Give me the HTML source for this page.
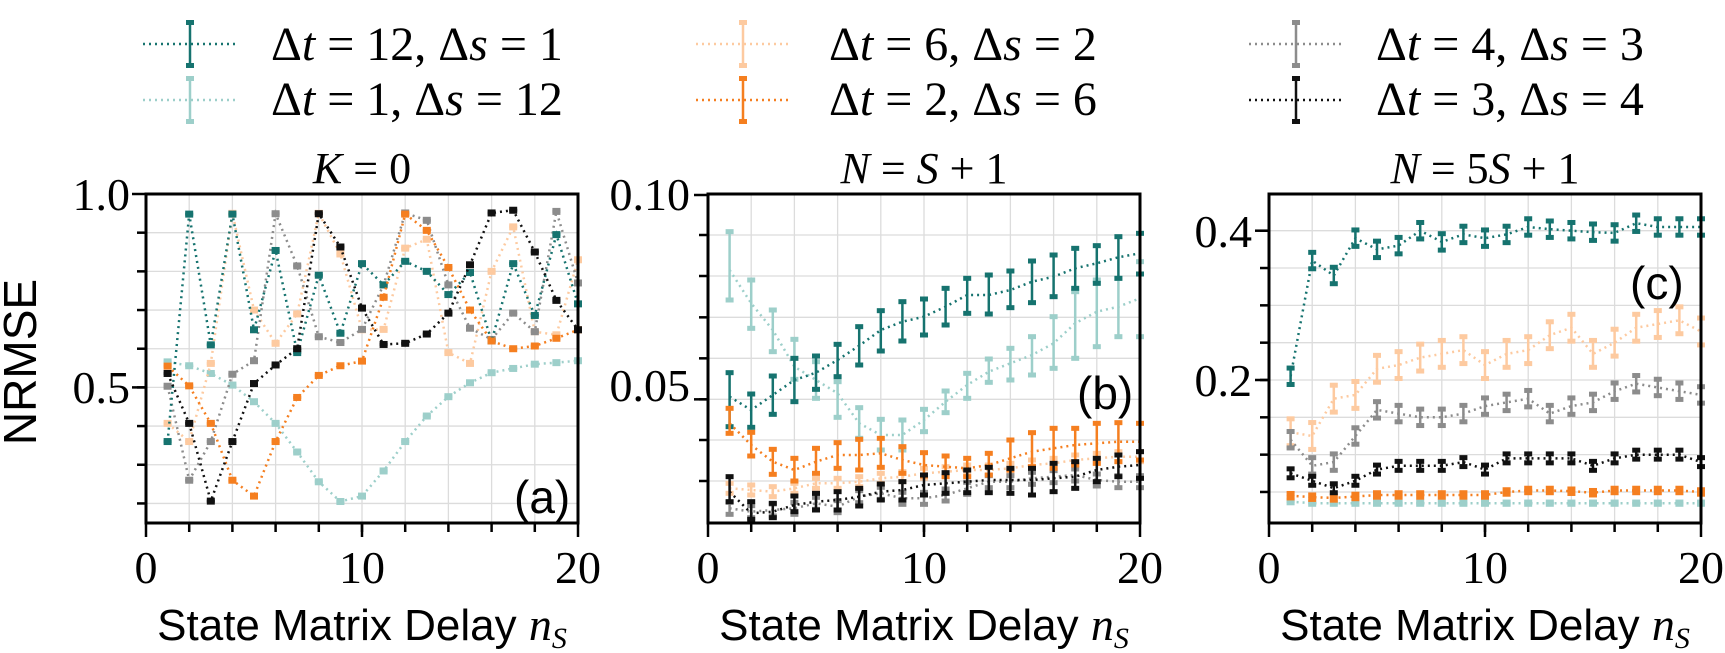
<!DOCTYPE html>
<html><head><meta charset="utf-8">
<style>
html,body{margin:0;padding:0;background:#fff;}
svg{display:block;}
.ser{font-family:"Liberation Serif","DejaVu Serif",serif;}
.san{font-family:"Liberation Sans","DejaVu Sans",sans-serif;}
</style></head>
<body>
<svg id="s" width="1725" height="653" viewBox="0 0 1725 653" xmlns="http://www.w3.org/2000/svg">
<g id="leg"></g>
<g class="ser" font-size="48" fill="#000">
<text x="271" y="60">Δ<tspan font-style="italic">t</tspan> = 12, Δ<tspan font-style="italic">s</tspan> = 1</text>
<text x="271" y="115">Δ<tspan font-style="italic">t</tspan> = 1, Δ<tspan font-style="italic">s</tspan> = 12</text>
<text x="829" y="60">Δ<tspan font-style="italic">t</tspan> = 6, Δ<tspan font-style="italic">s</tspan> = 2</text>
<text x="829" y="115">Δ<tspan font-style="italic">t</tspan> = 2, Δ<tspan font-style="italic">s</tspan> = 6</text>
<text x="1376" y="60">Δ<tspan font-style="italic">t</tspan> = 4, Δ<tspan font-style="italic">s</tspan> = 3</text>
<text x="1376" y="115">Δ<tspan font-style="italic">t</tspan> = 3, Δ<tspan font-style="italic">s</tspan> = 4</text>
</g>
<g id="plots"></g>
<g class="ser" font-size="44" text-anchor="middle">
<text x="362" y="183"><tspan font-style="italic">K</tspan> = 0</text>
<text x="924" y="183"><tspan font-style="italic">N</tspan> = <tspan font-style="italic">S</tspan> + 1</text>
<text x="1485" y="183"><tspan font-style="italic">N</tspan> = 5<tspan font-style="italic">S</tspan> + 1</text>
</g>
<g class="ser" font-size="46" text-anchor="end">
<text x="130" y="210">1.0</text>
<text x="130" y="403">0.5</text>
<text x="690" y="210">0.10</text>
<text x="690" y="401">0.05</text>
<text x="1252" y="247">0.4</text>
<text x="1252" y="396">0.2</text>
</g>
<g class="ser" font-size="46" text-anchor="middle">
<text x="146" y="583">0</text><text x="362" y="583">10</text><text x="578" y="583">20</text>
<text x="708" y="583">0</text><text x="924" y="583">10</text><text x="1140" y="583">20</text>
<text x="1269" y="583">0</text><text x="1485" y="583">10</text><text x="1701" y="583">20</text>
</g>
<g class="san" font-size="44" text-anchor="middle">
<text x="362" y="640">State Matrix Delay <tspan class="ser" font-style="italic" font-size="46">n</tspan><tspan class="ser" font-style="italic" font-size="30" dy="8">S</tspan></text>
<text x="924" y="640">State Matrix Delay <tspan class="ser" font-style="italic" font-size="46">n</tspan><tspan class="ser" font-style="italic" font-size="30" dy="8">S</tspan></text>
<text x="1485" y="640">State Matrix Delay <tspan class="ser" font-style="italic" font-size="46">n</tspan><tspan class="ser" font-style="italic" font-size="30" dy="8">S</tspan></text>
<text transform="translate(36,362) rotate(-90)" font-size="46">NRMSE</text>
</g>
<g class="san" font-size="46">
<text x="514" y="513">(a)</text>
<text x="1077" y="409">(b)</text>
<text x="1630" y="299">(c)</text>
</g>
</svg>
<script>
var NS="http://www.w3.org/2000/svg";
var C={t:"#16736f",lt:"#9dcfca",lo:"#fdcaa0",o:"#f57f20",g:"#8c8c8c",k:"#111111"};
function el(p,n,a){var e=document.createElementNS(NS,n);for(var k in a)e.setAttribute(k,a[k]);p.appendChild(e);return e;}
var P=document.getElementById("plots"),L=document.getElementById("leg");
var LH=[[143,44,C.t],[143,100,C.lt],[696,44,C.lo],[696,100,C.o],[1249,44,C.g],[1249,100,C.k]];
LH.forEach(function(h){var x=h[0],y=h[1];
 el(L,"line",{x1:x,y1:y,x2:x+94,y2:y,stroke:h[2],"stroke-width":2.5,"stroke-dasharray":"2,4"});
 el(L,"line",{x1:x+47,y1:y-22,x2:x+47,y2:y+22,stroke:h[2],"stroke-width":2.5});
 el(L,"rect",{x:x+43,y:y-24,width:8,height:5,fill:h[2]});
 el(L,"rect",{x:x+43,y:y+19,width:8,height:5,fill:h[2]});
});
var TOP=194,BOT=523;
function panel(x0,gridY,ticksY){
 var w=432;
 var g=el(P,"g",{});
 gridY.forEach(function(y){el(g,"line",{x1:x0,x2:x0+w,y1:y,y2:y,stroke:"#dcdcdc","stroke-width":1.3});
   el(g,"line",{x1:x0-9,x2:x0,y1:y,y2:y,stroke:"#000","stroke-width":2.5});});
 ticksY.forEach(function(y){el(g,"line",{x1:x0-14,x2:x0,y1:y,y2:y,stroke:"#000","stroke-width":2.5});});
 for(var i=2;i<20;i+=2){var x=x0+i*w/20;
  el(g,"line",{x1:x,x2:x,y1:TOP,y2:BOT,stroke:"#dcdcdc","stroke-width":1.3});
  el(g,"line",{x1:x,x2:x,y1:BOT,y2:BOT+9,stroke:"#000","stroke-width":2.5});}
 [0,10,20].forEach(function(i){var x=x0+i*w/20;el(g,"line",{x1:x,x2:x,y1:BOT,y2:BOT+14,stroke:"#000","stroke-width":2.5});});
}
function frame(x0){el(P,"rect",{x:x0,y:TOP,width:432,height:BOT-TOP,fill:"none",stroke:"#000","stroke-width":3});}
function series(x0,pts,col,capw){
 var g=el(P,"g",{});
 var d="";pts.forEach(function(p,i){var x=x0+(i+1)*21.6;d+=(i?"L":"M")+x.toFixed(1)+","+p[0].toFixed(1);});
 el(g,"path",{d:d,fill:"none",stroke:col,"stroke-width":2.5,"stroke-dasharray":"2,4"});
 pts.forEach(function(p,i){var x=x0+(i+1)*21.6;
  if(p[2]-p[1]>4){el(g,"line",{x1:x,x2:x,y1:p[1],y2:p[2],stroke:col,"stroke-width":2.5});}
  el(g,"rect",{x:x-capw/2,y:p[1]-2.5,width:capw,height:5,fill:col});
  el(g,"rect",{x:x-capw/2,y:p[2]-2.5,width:capw,height:5,fill:col});
 });
}
var ax=146;
function ya(v){return 194+(1-v)*386.8;}
var gA=[];[0.2,0.3,0.4,0.5,0.6,0.7,0.8,0.9].forEach(function(v){gA.push(ya(v));});
panel(ax,gA,[ya(1),ya(0.5)]);
var A={
t:[.36,.948,.61,.948,.649,.854,.59,.79,.64,.82,.765,.826,.80,.74,.797,.62,.82,.686,.895,.716],
lt:[.566,.556,.536,.506,.463,.407,.333,.256,.205,.219,.284,.36,.426,.476,.512,.538,.549,.56,.564,.569],
o:[.555,.504,.407,.26,.219,.36,.474,.531,.556,.568,.733,.948,.906,.81,.70,.62,.60,.607,.627,.649],
lo:[.407,.36,.562,.95,.70,.614,.69,.95,.845,.649,.65,.86,.883,.59,.562,.80,.915,.644,.636,.83],
g:[.503,.26,.36,.534,.569,.949,.814,.631,.616,.65,.765,.951,.932,.765,.653,.624,.692,.644,.955,.77],
k:[.536,.407,.206,.36,.51,.558,.6,.949,.863,.705,.611,.614,.638,.692,.817,.951,.958,.85,.725,.649]};
["lt","lo","g","t","o","k"].forEach(function(k){series(ax,A[k].map(function(v){var y=ya(v);return [y,y-1,y+1];}),C[k],8);});
frame(ax);
var bx=708;
function yb(z){return 180+z/3;}
var gB=[];[165,288,412,535,658,780,903].forEach(function(z){gB.push(yb(z));});
panel(bx,gB,[yb(45),yb(658)]);
function conv(a){return a.map(function(p){return [yb(p[0]),yb(p[1]),yb(p[2])];});}
function sym(c,e){return c.map(function(v){return [v,v-e,v+e];});}
var B={
t:[[650,578,740],[690,642,742],[645,588,703],[600,535,665],[578,528,628],[540,493,590],[497,440,555],[450,392,513],[425,365,483],[410,357,465],[380,325,435],[345,295,400],[345,285,402],[330,273,383],[305,243,368],[290,225,350],[265,205,325],[250,197,310],[232,170,295],[220,160,282]],
lt:[[270,155,360],[370,300,445],[450,390,515],[560,478,598],[600,545,655],[640,605,712],[730,683,775],[765,718,810],[765,720,810],[720,688,755],[665,633,698],[615,580,655],[575,537,607],[550,505,600],[525,470,585],[490,410,565],[430,335,535],[395,300,500],[380,295,470],[355,245,470]],
o:[[730,685,760],[795,757,828],[845,808,883],[870,835,903],[845,805,880],[825,788,865],[825,778,870],[820,775,862],[840,800,880],[855,818,888],[860,828,890],[865,835,890],[855,820,885],[835,780,870],[815,758,860],[805,745,865],[795,745,855],[790,730,850],[785,728,845],[785,730,840]],
lo:sym([925,930,935,925,910,910,905,895,890,880,875,870,870,865,855,850,840,835,830,830],15),
g:sym([985,995,990,985,970,980,950,940,955,955,945,925,905,905,895,890,885,900,905,905],18),
k:[[935,890,965],[1000,965,1018],[995,970,1013],[975,948,995],[965,940,990],[960,935,990],[950,925,978],[935,912,960],[930,905,960],[915,885,945],[910,878,940],[905,870,938],[900,862,938],[900,865,940],[900,865,945],[895,850,935],[890,845,925],[870,835,905],[860,825,890],[855,815,895]]};
["lt","lo","g","t","o","k"].forEach(function(k){series(bx,conv(B[k]),C[k],8);});
frame(bx);
var cx=1269;
function yc(v){return 230.7+(0.4-v)*746.5;}
var gC=[];[0.05,0.1,0.15,0.2,0.25,0.3,0.35,0.4].forEach(function(v){gC.push(yc(v));});
panel(cx,gC,[yc(0.4),yc(0.2)]);
function cs(a,e){return a.map(function(v){return [yc(v),yc(v+e),yc(v-e)];});}
var Cd={
t:cs([.205,.36,.34,.39,.375,.38,.40,.385,.395,.39,.395,.405,.402,.40,.398,.397,.41,.405,.405,.405],.011),
lo:cs([.13,.125,.175,.18,.215,.22,.23,.235,.24,.22,.235,.24,.26,.27,.235,.25,.27,.275,.28,.265],.018),
g:cs([.12,.085,.09,.125,.16,.155,.15,.15,.155,.165,.17,.175,.155,.165,.17,.185,.195,.19,.185,.18],.011),
k:cs([.075,.065,.055,.065,.08,.085,.085,.085,.09,.08,.095,.095,.095,.095,.085,.095,.1,.1,.1,.09],.006),
o:cs([.045,.043,.042,.044,.046,.046,.046,.046,.046,.046,.05,.052,.052,.051,.049,.052,.052,.052,.052,.05],.003),
lt:cs([.037,.035,.035,.035,.035,.035,.035,.035,.035,.035,.035,.035,.035,.035,.035,.035,.035,.035,.035,.035],.0015)};
["lt","lo","g","t","o","k"].forEach(function(k){series(cx,Cd[k],C[k],8);});
frame(cx);
</script>
</body></html>
